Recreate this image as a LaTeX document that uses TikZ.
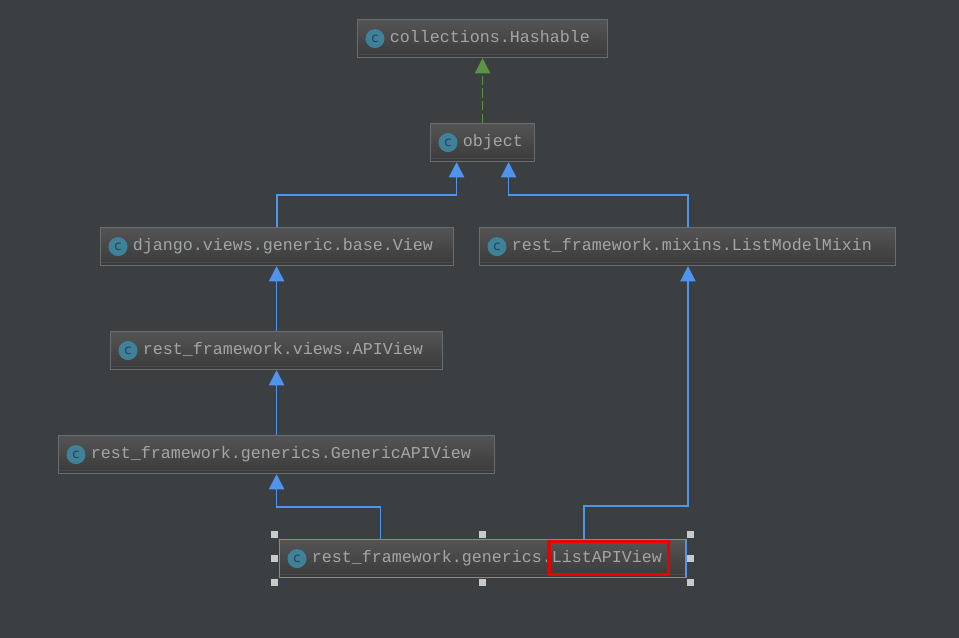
\documentclass[tikz,border=0pt]{standalone}
\usepackage{fontspec}
\setmonofont{Liberation Mono}
\setsansfont{DejaVu Sans}
\usetikzlibrary{arrows.meta,calc}
\definecolor{bgc}{HTML}{3C3F41}
\definecolor{boxtop}{HTML}{545454}
\definecolor{boxbot}{HTML}{3A3A3A}
\definecolor{boxline}{HTML}{6A6C6E}
\definecolor{txtc}{HTML}{A2A6A8}
\definecolor{iconc}{HTML}{3F8198}
\definecolor{iconl}{HTML}{1F4657}
\definecolor{inh}{HTML}{4F95EE}
\definecolor{impl}{HTML}{5B9444}
\definecolor{handle}{HTML}{C9C9C9}
\tikzset{
  x=0.75pt,y=-0.75pt,
  classbox/.style={draw=boxline,line width=0.85pt,top color=boxtop,bottom color=boxbot,inner sep=0pt,minimum height=28.5pt,anchor=north west},
  selbox/.style={classbox},
  strip/.style={draw=#1,line width=0.75pt},
  icon/.style={circle,fill=iconc,minimum size=14.25pt,inner sep=0pt,text=iconl,font=\sffamily\fontsize{10}{10}\selectfont},
  label/.style={anchor=base west,inner sep=0pt,text=txtc,font=\ttfamily\fontsize{12.5}{12.5}\selectfont},
  inhline/.style={draw=inh,line width=1.05pt,-{Triangle[length=11.5pt,width=11.5pt,fill=inh]}},
  implline/.style={draw=impl,line width=1.05pt,dash pattern=on 7pt off 2.5pt,-{Triangle[length=11.5pt,width=11.5pt,fill=impl]}},
  handlebox/.style={fill=handle,minimum size=5.25pt,inner sep=0pt},
  redbox/.style={draw=red!92!black,line width=2.6pt,minimum width=89.5pt,minimum height=24.5pt,inner sep=0pt},
  selframe/.style={draw=inh,line width=1.05pt}
}
\newcommand{\classnode}[6][classbox]{%
  \node[#1,minimum width=#5*0.75pt] (#2) at (#3,#4) {};
  \draw[strip=boxbot!70!boxline] ($(#2.south west)+(1,-3.5)$) -- ($(#2.south east)+(-1,-3.5)$);
  \node[icon] (#2icon) at ($(#2.west)+(18,0)$) {c};
  \node[label] (#2text) at ($(#2.west)+(32.5,4)$) {#6};
}
\begin{document}
\begin{tikzpicture}
\useasboundingbox (0,0) rectangle (959,637);
\fill[bgc,overlay] (-3,-3) rectangle (962,640);
\classnode{hash}{357}{19}{250}{collections.Hashable}
\classnode{obj}{430}{123}{104}{object}
\classnode{view}{100}{227}{353}{django.views.generic.base.View}
\classnode{mixin}{479}{227}{416}{rest\_framework.mixins.ListModelMixin}
\classnode{api}{110}{331}{332}{rest\_framework.views.APIView}
\classnode{gen}{58}{435}{436}{rest\_framework.generics.GenericAPIView}
\classnode[selbox]{list}{279}{539}{406}{rest\_framework.generics.ListAPIView}
\draw[selframe] ($(list.south west)+(0.5,-0.9)$) rectangle ($(list.north east)+(-0.1,0.5)$);
\draw[implline] (obj.north) -- (hash.south);
\draw[inhline] (view.north) -- ++(0,-32) -| ($(obj.south)+(-26,0)$);
\draw[inhline] ($(mixin.north)+(0.4,0)$) -- ++(0,-32) -| ($(obj.south)+(26,0)$);
\draw[inhline] (api.north) -- (api.north |- view.south);
\draw[inhline] (gen.north) -- (gen.north |- api.south);
\draw[inhline] ($(list.north)+(-102,0)$) -- ++(0,-32) -| (gen.south);
\draw[inhline] ($(list.north)+(101.4,0)$) -- ++(0,-33) -| ($(mixin.south)+(0.4,0)$);
\node[redbox] (red) at (608.7,558) {};
\node[handlebox] (h1) at (274.5,534.5) {};
\node[handlebox] (h2) at (482,534.5) {};
\node[handlebox] (h3) at (690.5,534.5) {};
\node[handlebox] (h4) at (274.5,558.5) {};
\node[handlebox] (h5) at (690.5,558.5) {};
\node[handlebox] (h6) at (274.5,582.5) {};
\node[handlebox] (h7) at (482,582.5) {};
\node[handlebox] (h8) at (690.5,582.5) {};
\end{tikzpicture}
\end{document}
